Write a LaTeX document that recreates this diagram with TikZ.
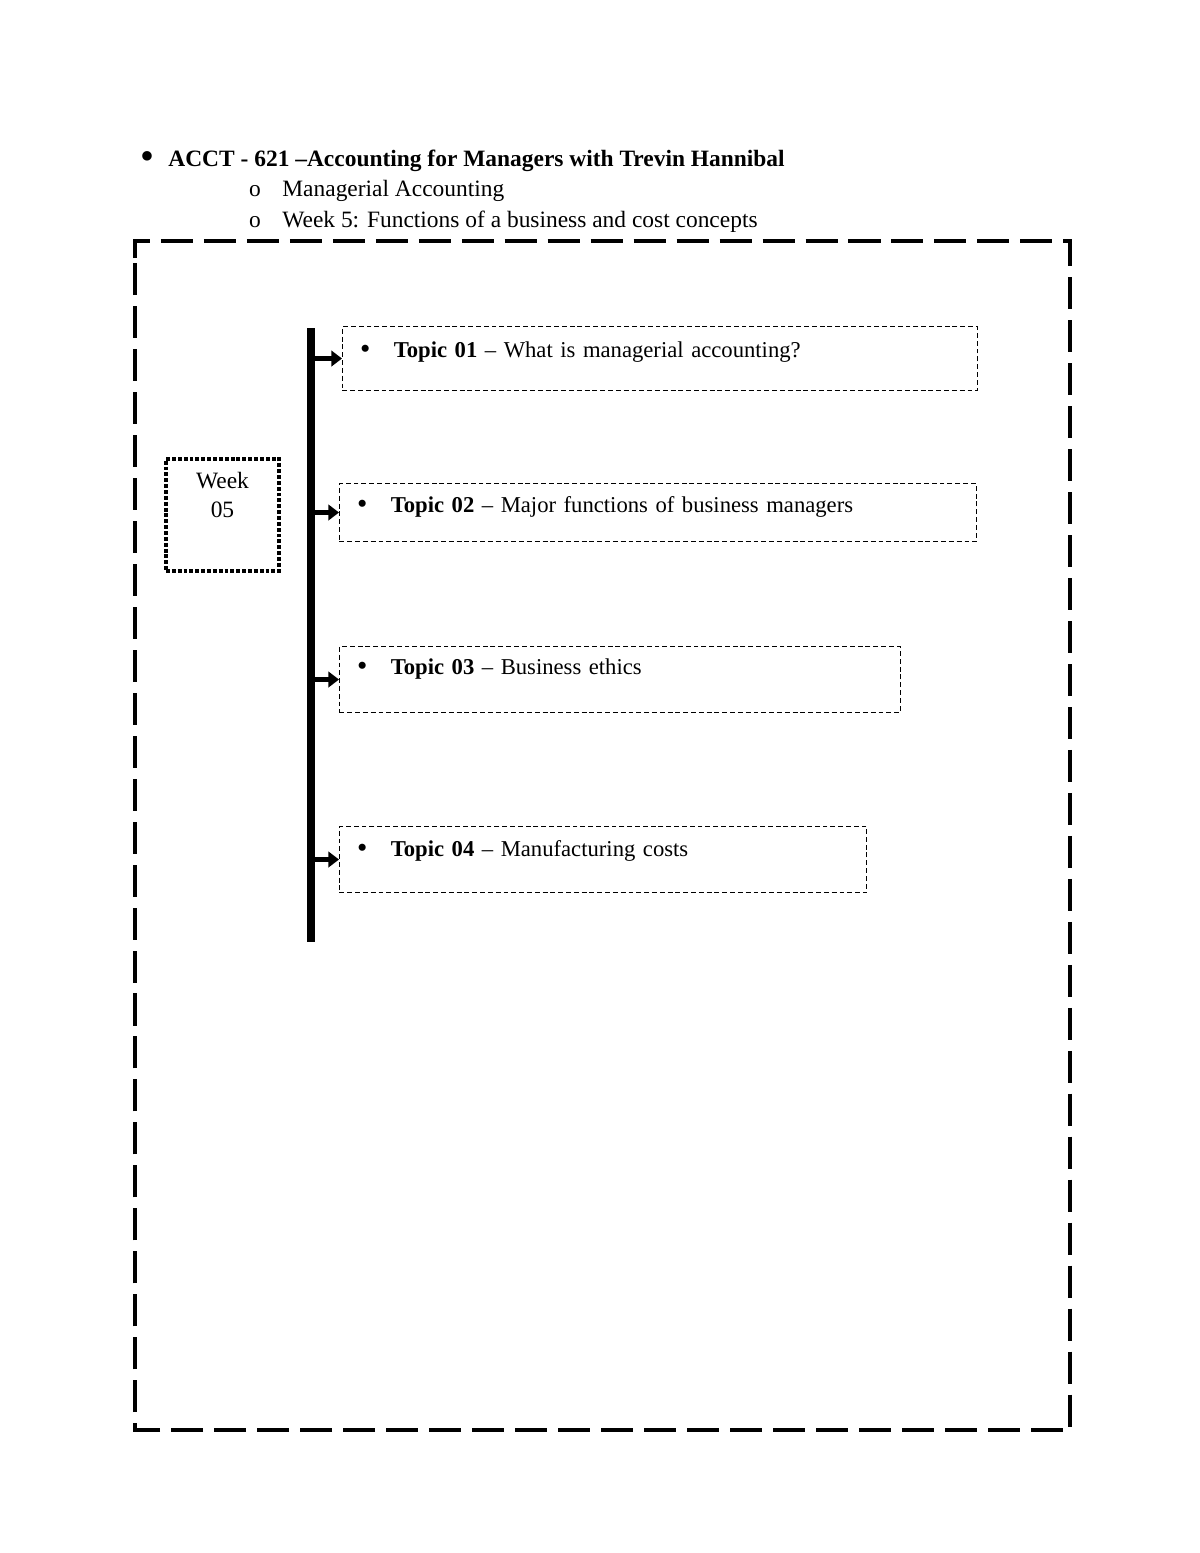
\documentclass[tikz,border=0pt]{standalone}
\usepackage{fontspec}
\setmainfont{Liberation Serif}
\usetikzlibrary{arrows.meta}

\begin{document}
\begin{tikzpicture}[x=0.512pt,y=-0.512pt,
		frame/.style={line width=2.1pt,dash pattern=on 16.4pt off 5.6pt},
		weekbox/.style={draw,line width=2pt,dash pattern=on 2pt off 1pt,anchor=north west,
			minimum width=57.9pt,minimum height=57.3pt,inner sep=0pt,align=center,font=\fontsize{12}{14.8}\selectfont},
		topic/.style={draw,dashed,dash pattern=on 2.5pt off 1.5pt,line width=0.5pt,anchor=north west,
			inner xsep=9pt,inner ysep=0pt,align=left,font=\fontsize{11.6}{14}\selectfont},
		link/.style={line width=2.3pt,-{Triangle[length=5.5pt,width=8pt]}}]
		\useasboundingbox (0,0) rectangle (1200,1553);
		% heading
		\node[anchor=base,inner sep=0pt] (dot) at (147,166) {\fontsize{12}{14}\selectfont\raisebox{-1.6pt}{\scalebox{1.7}{\textbullet}}};
		\node[anchor=base west,inner sep=0pt] (course) at (168,166) {\fontsize{12}{14}\selectfont\textbf{ACCT - 621 –Accounting for Managers with Trevin Hannibal}};
		\node[anchor=base,inner sep=0pt] (o1) at (255,196) {\fontsize{12}{14}\selectfont o};
		\node[anchor=base west,inner sep=0pt] (sub1) at (282,196) {\fontsize{12}{14}\selectfont Managerial Accounting};
		\node[anchor=base,inner sep=0pt] (o2) at (255,227) {\fontsize{12}{14}\selectfont o};
		\node[anchor=base west,inner sep=0pt] (sub2) at (282,227) {\fontsize{12}{14}\selectfont Week 5: Functions of a business and cost concepts};
		% outer frame
		\draw[frame] (135,258) -- (135,241) -- (1070,241) -- (1070,1430) -- (135,1430) -- cycle;
		% week
		\node[weekbox,text height=30pt,text depth=27.3pt] (week) at (164,457) {Week\\05};
		% topics
		\node[topic,text width=307pt,text height=15.9pt,text depth=16.9pt] (t1) at (342,326)
			{\raisebox{-0.7pt}{\scalebox{1.3}{\textbullet}}\hspace{12pt}\textbf{Topic 01} – What is managerial accounting?};
		\node[topic,text width=308pt,text height=14.8pt,text depth=14.9pt] (t2) at (339,483)
			{\raisebox{-0.7pt}{\scalebox{1.3}{\textbullet}}\hspace{12pt}\textbf{Topic 02} – Major functions of business managers};
		\node[topic,text width=269pt,text height=14.3pt,text depth=19.5pt] (t3) at (339,646)
			{\raisebox{-0.7pt}{\scalebox{1.3}{\textbullet}}\hspace{12pt}\textbf{Topic 03} – Business ethics};
		\node[topic,text width=252pt,text height=15.4pt,text depth=18.4pt] (t4) at (339,826)
			{\raisebox{-0.7pt}{\scalebox{1.3}{\textbullet}}\hspace{12pt}\textbf{Topic 04} – Manufacturing costs};
		% bar and arrows
		\coordinate (bartop) at (311,328);
		\coordinate (barbot) at (311,942);
		\draw[line width=3.6pt] (bartop) -- (barbot);
		\foreach \t in {t1,t2,t3,t4} \draw[link] (\t.west -| bartop) -- (\t.west);
	\end{tikzpicture}
\end{document}
